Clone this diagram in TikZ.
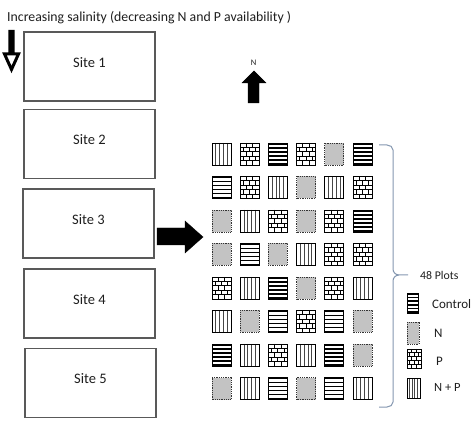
\documentclass[tikz,border=0pt]{standalone}
\usepackage{fontspec}
\setmainfont{Carlito}
\definecolor{bracecol}{RGB}{132,151,176}
\definecolor{boxline}{RGB}{89,89,89}
\definecolor{txt}{RGB}{30,30,30}
\definecolor{dotfill}{RGB}{195,195,195}
\newcommand{\drawctrl}{%
  \fill[white] (0,0) rectangle (1,1);
  \foreach \i in {0,...,5}{\fill[black] (0,\i*0.182) rectangle (1,\i*0.182+0.09);}
  \draw[black, line width=0.9pt] (0,0) rectangle (1,1);}
\newcommand{\drawnp}{%
  \fill[white] (0,0) rectangle (1,1);
  \foreach \x in {0.2,0.4,0.6,0.8}{\draw[gray!55!black, line width=0.9pt] (\x,0) -- (\x,1);}
  \draw[black, line width=0.9pt] (0,0) rectangle (1,1);}
\newcommand{\drawbrick}{%
  \fill[white] (0,0) rectangle (1,1);
  \foreach \y in {0.2,0.4,0.6,0.8}{\draw[black, line width=1pt] (0,\y) -- (1,\y);}
  \foreach \y in {0,0.4,0.8}{\foreach \x in {0.33,0.67}{\draw[black, line width=1pt] (\x,\y) -- (\x,\y+0.2);}}
  \foreach \y in {0.2,0.6}{\foreach \x in {0.17,0.5,0.83}{\draw[black, line width=1pt] (\x,\y) -- (\x,\y+0.2);}}
  \draw[black, line width=0.9pt] (0,0) rectangle (1,1);}
\newcommand{\drawdot}{%
  \fill[dotfill] (0,0) rectangle (1,1);
  \draw[gray!40!black, line width=0.8pt, dash pattern=on 1pt off 0.8pt] (0,0) rectangle (1,1);}
\tikzset{
  sitebox/.style={draw=boxline, line width=1.3pt, minimum width=131pt, minimum height=69pt, inner sep=0pt, text depth=8pt, text=txt, font=\fontsize{14.5}{16}\selectfont},
  lbl/.style={anchor=west, text=txt, inner sep=0pt, font=\fontsize{12}{14}\selectfont},
  blockarrow/.style={fill=black, draw=black, line join=miter}
}
\begin{document}
\begin{tikzpicture}[x=1pt,y=-1pt]
\useasboundingbox (0,0) rectangle (474,430);
\node[anchor=west, text=txt, inner sep=0pt, font=\fontsize{13.8}{15}\selectfont] (title) at (7,18) {Increasing salinity (decreasing N and P availability )};
% down arrow
\draw[fill=white, draw=black, line width=3pt, line join=miter] (9.8,31.5) -- (13.2,31.5) -- (13.2,54) -- (18.5,54) -- (11.5,69.5) -- (4.5,54) -- (9.8,54) -- cycle;
% sites
\node[sitebox] (s1) at (89.5,66.5) {Site 1};
\node[sitebox] (s2) at (89.5,144) {Site 2};
\node[sitebox] (s3) at (88.5,223.5) {Site 3};
\node[sitebox] (s4) at (89.5,303.5) {Site 4};
\node[sitebox] (s5) at (90.5,383) {Site 5};
% right arrow
\draw[blockarrow] (157,228) -- (185,228) -- (185,221) -- (203,237) -- (185,253) -- (185,245) -- (157,245) -- cycle;
% north arrow
\node[text=txt, inner sep=0pt, font=\fontsize{8.5}{9}\selectfont] (north) at (253.5,63) {N};
\draw[blockarrow] (248,103) -- (248,83) -- (242,83) -- (254,71) -- (266,83) -- (259,83) -- (259,103) -- cycle;
% grid
\foreach \t [count=\k from 0] in {np,brick,ctrl,brick,dot,ctrl,
  ctrl,brick,np,dot,np,brick,
  dot,np,brick,dot,brick,ctrl,
  dot,ctrl,dot,np,brick,brick,
  brick,np,ctrl,dot,brick,np,
  np,dot,ctrl,brick,ctrl,dot,
  ctrl,np,brick,np,ctrl,dot,
  dot,np,ctrl,dot,ctrl,np}{
  \pgfmathtruncatemacro{\col}{mod(\k,6)}
  \pgfmathtruncatemacro{\row}{int(\k/6)}
  \begin{scope}[shift={(212+28.2*\col,143+33.5*\row)}, xscale=19, yscale=22]
    \csname draw\t\endcsname
  \end{scope}
}
% brace
\draw[bracecol, line width=1pt] (379,145) -- (387,145) to[out=0,in=90] (393,150) -- (393,269) to[out=-90,in=180] (399,275) -- (408,275);
\draw[bracecol, line width=1pt] (379,407) -- (387,407) to[out=0,in=-90] (393,402) -- (393,281) to[out=90,in=180] (399,275);
\node[lbl, font=\fontsize{11.8}{13}\selectfont] (plots) at (420,275) {48 Plots};
% legend
\begin{scope}[shift={(407,293)}, xscale=11, yscale=20]\drawctrl\end{scope}
\begin{scope}[shift={(407,322)}, xscale=12, yscale=22]\drawdot\end{scope}
\begin{scope}[shift={(407,349)}, xscale=14, yscale=19]\drawbrick\end{scope}
\begin{scope}[shift={(407,378)}, xscale=13, yscale=20]\drawnp\end{scope}
\node[lbl, font=\fontsize{13}{15}\selectfont] (lc) at (432,304) {Control};
\node[lbl, font=\fontsize{13}{15}\selectfont] (ln) at (434,333) {N};
\node[lbl, font=\fontsize{13}{15}\selectfont] (lp) at (436,361) {P};
\node[lbl, font=\fontsize{12.5}{14}\selectfont] (lnp) at (434,387) {N + P};
\end{tikzpicture}
\end{document}
